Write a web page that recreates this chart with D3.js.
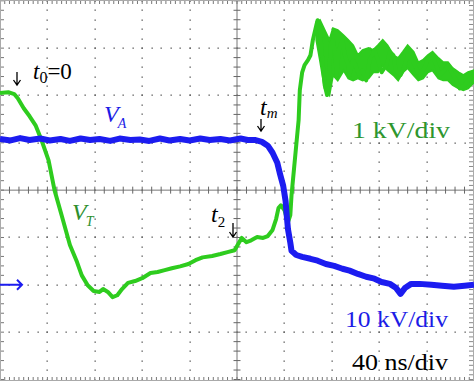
<!DOCTYPE html>
<html>
<head>
<meta charset="utf-8">
<script src="https://cdn.jsdelivr.net/npm/d3@7"></script>
<style>
  body { margin: 0; background: #fff; }
  svg { display: block; }
  text { font-family: "Liberation Serif", "Times New Roman", serif; }
</style>
</head>
<body>
<div id="scope"></div>
<script>
var svgWidth = 474;
var svgHeight = 381;

// time axis: 40 ns/div, 10 divisions, t0 = 0 near the left edge
var timeDomain = [-14, 386];
// green trace: 1 kV/div, blue trace: 10 kV/div (0 kV at the blue marker)
var greenDomain = [-4, 4];
var blueDomain = [-20, 60];

// V_T (green), ns / kV
var greenTime = [-14, -7, -2, 1, 6, 11, 16, 21, 27, 32, 38, 45, 51, 55, 60, 65, 70, 73, 77, 81, 85, 89, 94, 100,
  106, 113, 119, 125, 131, 138, 145, 151, 157, 165, 172, 178, 184, 187, 190, 194, 198, 203, 208, 212, 216, 219,
  221, 223, 226, 229, 231, 232, 234, 236, 238, 239, 241, 243, 246, 248, 250, 253, 254, 256, 258, 260, 262, 264,
  265, 267, 269, 270, 272, 275, 277, 280, 281, 284, 286, 289, 292, 295, 298, 302, 305, 308, 312, 315, 318, 320,
  324, 327, 330, 334, 337, 340, 344, 347, 351, 354, 357, 361, 364, 367, 371, 374, 378, 381, 386];
var greenKV = [2.05, 2.07, 2.03, 1.94, 1.73, 1.56, 1.37, 1.06, 0.63, 0.0, -0.53, -1.16, -1.52, -1.80, -2.01, -2.13,
  -2.15, -2.09, -2.15, -2.26, -2.22, -2.09, -1.96, -1.92, -1.86, -1.75, -1.73, -1.69, -1.65, -1.61, -1.56, -1.48,
  -1.42, -1.39, -1.35, -1.31, -1.27, -1.14, -1.01, -1.10, -1.06, -0.99, -1.01, -0.97, -0.84, -0.61, -0.38, -0.32,
  -0.42, -0.68, -0.53, -0.11, 0.42, 0.95, 1.48, 2.11, 2.49, 2.64, 2.75, 2.85, 3.17, 3.49, 3.59, 3.38, 2.75, 2.22,
  2.01, 2.53, 3.06, 3.17, 2.85, 2.43, 2.96, 3.17, 2.85, 2.64, 2.43, 2.75, 2.64, 2.43, 2.53, 2.32, 2.75, 2.96, 2.75,
  2.49, 2.64, 2.92, 2.85, 2.53, 2.43, 2.58, 2.85, 2.75, 2.58, 2.43, 2.58, 2.75, 2.85, 2.64, 2.43, 2.53, 2.64, 2.49,
  2.32, 2.15, 2.22, 2.32, 2.43];

// noise envelope of V_T after the rise (ns / kV, top and bottom of the band)
var bandTime = [253, 256, 260, 264, 267, 271, 276, 280, 284, 288, 292, 297, 301, 305, 309, 313, 318, 322, 326,
  330, 335, 339, 343, 347, 351, 356, 360, 364, 368, 373, 377, 381, 386];
var bandHi = [3.55, 3.59, 3.38, 3.17, 3.42, 3.38, 3.27, 3.17, 3.06, 2.85, 2.96, 3.00, 2.96, 3.06, 3.17, 3.06,
  2.85, 2.79, 2.92, 3.06, 2.92, 2.70, 2.75, 2.85, 2.92, 2.79, 2.70, 2.70, 2.58, 2.49, 2.43, 2.49, 2.53];
var bandLo = [3.17, 2.75, 2.15, 2.01, 2.43, 2.32, 2.53, 2.36, 2.32, 2.36, 2.32, 2.36, 2.49, 2.49, 2.64, 2.53,
  2.43, 2.32, 2.49, 2.58, 2.43, 2.32, 2.36, 2.49, 2.53, 2.36, 2.32, 2.32, 2.22, 2.15, 2.11, 2.15, 2.28];

// V_A (blue), ns / kV
var blueTime = [-14, -5, 3, 11, 20, 28, 37, 45, 54, 62, 70, 79, 87, 96, 104, 112, 121, 129, 138, 146, 155, 163,
  172, 180, 189, 195, 201, 207, 212, 216, 220, 222, 225, 227, 228, 229, 231, 232, 236, 241, 248, 254, 261, 268,
  275, 281, 288, 295, 302, 308, 315, 320, 324, 328, 333, 340, 350, 359, 369, 378, 386];
var blueKV = [30.8, 30.5, 31.0, 30.6, 30.9, 30.5, 30.8, 30.4, 30.9, 30.6, 30.8, 30.4, 30.9, 30.6, 30.7, 30.4,
  30.9, 30.5, 30.8, 30.5, 30.9, 30.6, 30.8, 30.5, 30.9, 30.6, 30.6, 30.2, 29.4, 27.9, 25.8, 23.7, 20.9, 17.7,
  14.6, 11.8, 8.9, 7.2, 6.3, 5.9, 5.5, 5.1, 4.4, 4.0, 3.4, 3.0, 2.3, 1.7, 1.3, 0.6, 0.2, -0.6, -1.9, -0.6,
  0.2, 0.2, 0.0, -0.2, -0.4, -0.2, 0.0];

var greenData = greenTime.map((t, i) => ({ t: t, v: greenKV[i] }));
var bandData = bandTime.map((t, i) => ({ t: t, hi: bandHi[i], lo: bandLo[i] }));
var blueData = blueTime.map((t, i) => ({ t: t, v: blueKV[i] }));

var greenColor = "#2ecc1e";
var blueColor = "#1c1cf0";

var svg = d3.select("#scope").append("svg")
    .attr("width", svgWidth)
    .attr("height", svgHeight);

var xScale = d3.scaleLinear().domain(timeDomain).range([0, 474]);
var yGreen = d3.scaleLinear().domain(greenDomain).range([379.5, 0.8]);
var yBlue = d3.scaleLinear().domain(blueDomain).range([379.5, 0.8]);

var gridColor = "#555";
var divX = d3.range(1, 10).map(i => timeDomain[0] + 40 * i);
var divY = d3.range(-3, 4);
var minorX = d3.range(0, 51).map(i => timeDomain[0] + 8 * i);
var fineX = d3.range(0, 101).map(i => timeDomain[0] + 4 * i);
var minorY = d3.range(0, 41).map(i => -4 + 0.2 * i);

// dotted graticule
var grid = svg.append("g");
divX.filter(t => t !== 186).forEach(function (t) {
    minorY.forEach(function (v) {
        grid.append("rect")
            .attr("x", Math.round(xScale(t)) - 0.5).attr("y", Math.round(yGreen(v)) - 0.5)
            .attr("width", 1.3).attr("height", 1.3).attr("fill", gridColor);
    });
});
divY.filter(v => v !== 0).forEach(function (v) {
    minorX.forEach(function (t) {
        grid.append("rect")
            .attr("x", Math.round(xScale(t)) - 0.5).attr("y", Math.round(yGreen(v)) - 0.5)
            .attr("width", 1.3).attr("height", 1.3).attr("fill", gridColor);
    });
});

// center axes with minor ticks
var cx = xScale(186), cy = yGreen(0);
grid.append("line").attr("x1", 0).attr("x2", 474).attr("y1", cy).attr("y2", cy)
    .attr("stroke", "#777").attr("stroke-width", 1);
grid.append("line").attr("x1", cx).attr("x2", cx).attr("y1", 0).attr("y2", 381)
    .attr("stroke", "#777").attr("stroke-width", 1);
grid.selectAll(".hTick").data(minorX).enter().append("line")
    .attr("x1", d => xScale(d)).attr("x2", d => xScale(d))
    .attr("y1", cy - 3.5).attr("y2", cy + 3.5)
    .attr("stroke", "#666").attr("stroke-width", 1);
grid.selectAll(".vTick").data(minorY).enter().append("line")
    .attr("x1", cx - 3.5).attr("x2", cx + 3.5)
    .attr("y1", d => yGreen(d)).attr("y2", d => yGreen(d))
    .attr("stroke", "#666").attr("stroke-width", 1);

// border ticks
grid.selectAll(".topTick").data(fineX).enter().append("line")
    .attr("x1", d => xScale(d)).attr("x2", d => xScale(d))
    .attr("y1", 0).attr("y2", 4).attr("stroke", "#777");
grid.selectAll(".botTick").data(fineX).enter().append("line")
    .attr("x1", d => xScale(d)).attr("x2", d => xScale(d))
    .attr("y1", 377).attr("y2", 381).attr("stroke", "#777");
grid.selectAll(".leftTick").data(minorY).enter().append("line")
    .attr("x1", 0).attr("x2", 4)
    .attr("y1", d => yGreen(d)).attr("y2", d => yGreen(d)).attr("stroke", "#777");
grid.selectAll(".rightTick").data(d3.range(0, 81).map(i => -4 + 0.1 * i)).enter().append("line")
    .attr("x1", 469).attr("x2", 474)
    .attr("y1", d => yGreen(d)).attr("y2", d => yGreen(d)).attr("stroke", "#888");
grid.append("rect").attr("x", 0.5).attr("y", 0.5).attr("width", 473).attr("height", 380)
    .attr("fill", "none").attr("stroke", "#aaa");

// traces
var blueLine = d3.line().x(d => xScale(d.t)).y(d => yBlue(d.v));
var greenLine = d3.line().x(d => xScale(d.t)).y(d => yGreen(d.v));
var greenBand = d3.area().x(d => xScale(d.t)).y0(d => yGreen(d.lo)).y1(d => yGreen(d.hi));

svg.append("path").datum(bandData)
    .attr("d", greenBand)
    .attr("fill", greenColor).attr("stroke", greenColor).attr("stroke-width", 2);

svg.append("path").datum(greenData)
    .attr("d", greenLine)
    .attr("fill", "none").attr("stroke", greenColor).attr("stroke-width", 4)
    .attr("stroke-linejoin", "round");

svg.append("path").datum(blueData)
    .attr("d", blueLine)
    .attr("fill", "none").attr("stroke", blueColor).attr("stroke-width", 6)
    .attr("stroke-linejoin", "round");

// ground marker for the blue channel
var g0 = yBlue(0);
svg.append("path")
    .attr("d", `M0,${g0}H22M17,${g0 - 5}L22,${g0}L17,${g0 + 5}`)
    .attr("fill", "none").attr("stroke", blueColor).attr("stroke-width", 2);

// small arrows for the time markers
function arrowDown(x, y1, y2) {
    svg.append("path")
        .attr("d", `M${x},${y1}V${y2}M${x - 3.5},${y2 - 5}L${x},${y2}L${x + 3.5},${y2 - 5}`)
        .attr("fill", "none").attr("stroke", "#000").attr("stroke-width", 1.3);
}
arrowDown(17, 72, 85);
arrowDown(261, 119, 131);
arrowDown(233, 223, 237);

// labels
var t0 = svg.append("text").attr("x", 33).attr("y", 79).attr("font-size", 23).attr("fill", "#000");
t0.append("tspan").attr("font-style", "italic").text("t");
t0.append("tspan").attr("font-size", 16).attr("dy", 4).text("0");
t0.append("tspan").attr("dy", -4).text("=0");

var tm = svg.append("text").attr("x", 260).attr("y", 115).attr("font-size", 24).attr("fill", "#000")
    .attr("font-style", "italic");
tm.append("tspan").text("t");
tm.append("tspan").attr("font-size", 15).attr("dy", 3).text("m");

var t2 = svg.append("text").attr("x", 211).attr("y", 222).attr("font-size", 24).attr("fill", "#000");
t2.append("tspan").attr("font-style", "italic").text("t");
t2.append("tspan").attr("font-size", 15).attr("dy", 5).text("2");

var va = svg.append("text").attr("x", 104).attr("y", 122).attr("font-size", 24).attr("fill", "#1c1ce6")
    .attr("font-style", "italic");
va.append("tspan").text("V");
va.append("tspan").attr("font-size", 14).attr("dy", 6).attr("dx", -1).text("A");

var vt = svg.append("text").attr("x", 72).attr("y", 220).attr("font-size", 24).attr("fill", "#2e8f2e")
    .attr("font-style", "italic");
vt.append("tspan").text("V");
vt.append("tspan").attr("font-size", 14).attr("dy", 6).attr("dx", -1).text("T");

svg.append("text").attr("x", 352).attr("y", 138).attr("font-size", 23)
    .attr("fill", "#2e962e").attr("textLength", 98).attr("lengthAdjust", "spacingAndGlyphs")
    .text("1 kV/div");
svg.append("text").attr("x", 345).attr("y", 327).attr("font-size", 23)
    .attr("fill", "#1c1ce6").attr("textLength", 103).attr("lengthAdjust", "spacingAndGlyphs")
    .text("10 kV/div");
svg.append("text").attr("x", 352).attr("y", 370).attr("font-size", 23)
    .attr("fill", "#000").attr("textLength", 96).attr("lengthAdjust", "spacingAndGlyphs")
    .text("40 ns/div");
</script>
</body>
</html>
